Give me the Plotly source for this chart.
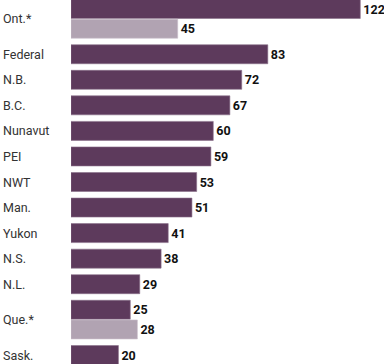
import plotly.graph_objects as go

# Data
categories = ["Ont.*", "Federal", "N.B.", "B.C.", "Nunavut", "PEI", "NWT", "Man.",
              "Yukon", "N.S.", "N.L.", "Que.*", "Sask."]
values_primary = [122, 83, 72, 67, 60, 59, 53, 51, 41, 38, 29, 25, 20]
values_secondary = [45, None, None, None, None, None, None, None, None, None, None, 28, None]

DARK = "#5d3a5c"
LIGHT = "#b1a3b2"

# layout spacing (in plot units)
START = 9.0
WITHIN = 19.7
BETWEEN = 25.55
BAR_W = 19.0

y_dark, y_light, x_light, label_y = [], [], [], []
pos = START
for i, cat in enumerate(categories):
    first = pos
    y_dark.append(pos)
    if values_secondary[i] is not None:
        pos += WITHIN
        y_light.append(pos)
        x_light.append(values_secondary[i])
    label_y.append((first + pos) / 2)
    pos += BETWEEN

vfont = dict(family="Roboto", size=12.5, color="#111111", weight="bold")

fig = go.Figure()
fig.add_trace(go.Bar(
    x=values_primary, y=y_dark, orientation="h", width=BAR_W,
    marker=dict(color=DARK, line=dict(color="#8a7089", width=0.6)),
    text=[str(v) for v in values_primary], textposition="outside",
    textfont=vfont, constraintext="none",
    cliponaxis=False, hoverinfo="skip"))
fig.add_trace(go.Bar(
    x=x_light, y=y_light, orientation="h", width=BAR_W,
    marker=dict(color=LIGHT, line=dict(color="#cbc0cb", width=0.6)),
    text=[str(v) for v in x_light], textposition="outside",
    textfont=vfont, constraintext="none",
    cliponaxis=False, hoverinfo="skip"))

for cat, yy in zip(categories, label_y):
    fig.add_annotation(x=0, xref="paper", xanchor="left", xshift=-70,
                       y=yy, yref="y", yanchor="middle", text=cat, showarrow=False,
                       font=dict(family="Roboto", size=12.5, color="#333333"))

fig.update_layout(
    width=384, height=364, margin=dict(l=71, r=0, t=0, b=0),
    paper_bgcolor="white", plot_bgcolor="white",
    barmode="overlay", showlegend=False,
    xaxis=dict(range=[0, 132], visible=False),
    yaxis=dict(range=[364, 0], visible=False),
)
fig.write_html("out.html", config={"displayModeBar": False},
               post_script="document.body.style.margin='0';document.body.style.overflow='hidden';")
